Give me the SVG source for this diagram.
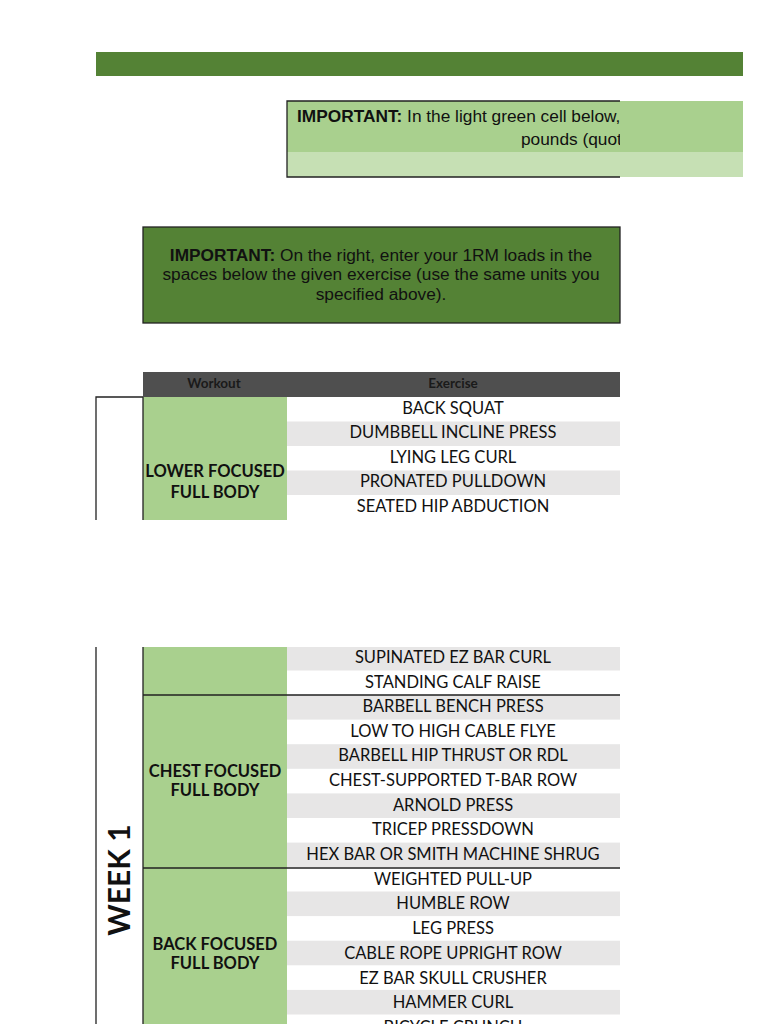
<svg xmlns="http://www.w3.org/2000/svg" width="768" height="1024" viewBox="0 0 768 1024">
<style>
.ex{font-family:Lato,"Open Sans",sans-serif;font-size:16.5px;fill:#111;text-anchor:middle}
.grp{font-family:Lato,"Open Sans",sans-serif;font-size:16.5px;font-weight:bold;fill:#111;text-anchor:middle}
.ar{font-family:"Liberation Sans",Arial,sans-serif;font-size:17.3px;fill:#111}
.hd{font-family:Lato,"Open Sans",sans-serif;font-size:13.5px;font-weight:bold;fill:#1a1a1a;text-anchor:middle}
.g{fill:#e7e6e6}.lg{fill:#a9d08e}
.ln{stroke:#222;stroke-width:1.3;fill:none}
</style>
<defs><clipPath id="c1"><rect x="287" y="101" width="333" height="76"/></clipPath></defs>
<rect width="768" height="1024" fill="#fff"/>
<rect x="96" y="52" width="647" height="24" fill="#548235"/>
<g id="note1">
<rect x="287" y="101" width="456" height="51" fill="#a9d08e"/>
<rect x="287" y="152" width="456" height="25" fill="#c6e0b4"/>
<path class="ln" d="M620 101H287V177H620"/>
<g clip-path="url(#c1)">
<text class="ar" x="297" y="122"><tspan font-weight="bold">IMPORTANT:</tspan> In the light green cell below, enter kg or</text>
<text class="ar" x="521" y="145">pounds (quotation marks not needed).</text>
</g>
</g>
<g id="note2">
<rect x="143" y="227" width="477" height="96" fill="#548235" stroke="#222" stroke-width="1.3"/>
<text class="ar" x="381" y="261" text-anchor="middle"><tspan font-weight="bold">IMPORTANT:</tspan> On the right, enter your 1RM loads in the</text>
<text class="ar" x="381" y="280" text-anchor="middle">spaces below the given exercise (use the same units you</text>
<text class="ar" x="381" y="300" text-anchor="middle">specified above).</text>
</g>
<g id="header">
<rect x="143" y="372" width="477" height="25" fill="#4f4f4f"/>
<text class="hd" x="214" y="388">Workout</text>
<text class="hd" x="453" y="388">Exercise</text>
</g>
<g id="lower">
<rect class="lg" x="143" y="397" width="144" height="123"/>
<rect class="g" x="287" y="421.5" width="333" height="24.5"/>
<rect class="g" x="287" y="470.5" width="333" height="24.5"/>
<text class="ex" x="453" y="414">BACK SQUAT</text>
<text class="ex" x="453" y="438">DUMBBELL INCLINE PRESS</text>
<text class="ex" x="453" y="463">LYING LEG CURL</text>
<text class="ex" x="453" y="487">PRONATED PULLDOWN</text>
<text class="ex" x="453" y="512">SEATED HIP ABDUCTION</text>
<text class="grp" x="215" y="477">LOWER FOCUSED</text>
<text class="grp" x="215" y="498">FULL BODY</text>
</g>
<g id="lower-cont">
<rect class="lg" x="143" y="647" width="144" height="48"/>
<rect class="g" x="287" y="647" width="333" height="23.5"/>
<text class="ex" x="453" y="663">SUPINATED EZ BAR CURL</text>
<text class="ex" x="453" y="688">STANDING CALF RAISE</text>
</g>
<g id="chest">
<rect class="lg" x="143" y="695" width="144" height="173"/>
<rect class="g" x="287" y="695" width="333" height="24.6"/>
<rect class="g" x="287" y="744.2" width="333" height="24.6"/>
<rect class="g" x="287" y="793.4" width="333" height="24.6"/>
<rect class="g" x="287" y="842.6" width="333" height="24.6"/>
<text class="ex" x="453" y="712">BARBELL BENCH PRESS</text>
<text class="ex" x="453" y="737">LOW TO HIGH CABLE FLYE</text>
<text class="ex" x="453" y="761">BARBELL HIP THRUST OR RDL</text>
<text class="ex" x="453" y="786">CHEST-SUPPORTED T-BAR ROW</text>
<text class="ex" x="453" y="811">ARNOLD PRESS</text>
<text class="ex" x="453" y="835">TRICEP PRESSDOWN</text>
<text class="ex" x="453" y="860">HEX BAR OR SMITH MACHINE SHRUG</text>
<text class="grp" x="215" y="777">CHEST FOCUSED</text>
<text class="grp" x="215" y="796">FULL BODY</text>
</g>
<g id="back">
<rect class="lg" x="143" y="868" width="144" height="156"/>
<rect class="g" x="287" y="891.5" width="333" height="24.6"/>
<rect class="g" x="287" y="940.7" width="333" height="24.6"/>
<rect class="g" x="287" y="989.9" width="333" height="24.6"/>
<text class="ex" x="453" y="885">WEIGHTED PULL-UP</text>
<text class="ex" x="453" y="909">HUMBLE ROW</text>
<text class="ex" x="453" y="934">LEG PRESS</text>
<text class="ex" x="453" y="959">CABLE ROPE UPRIGHT ROW</text>
<text class="ex" x="453" y="984">EZ BAR SKULL CRUSHER</text>
<text class="ex" x="453" y="1008">HAMMER CURL</text>
<text class="ex" x="453" y="1033">BICYCLE CRUNCH</text>
<text class="grp" x="215" y="950">BACK FOCUSED</text>
<text class="grp" x="215" y="969">FULL BODY</text>
</g>
<g id="week">
<text x="130" y="880" transform="rotate(-90 130 880)" font-family="Lato,'Open Sans',sans-serif" font-size="30" font-weight="bold" fill="#111" text-anchor="middle">WEEK 1</text>
</g>
<g id="lines">
<path class="ln" d="M96 520V397H143M143 397V520"/>
<path class="ln" d="M96 647V1024M143 647V1024M143 695H620M143 868H620"/>
</g>
</svg>
